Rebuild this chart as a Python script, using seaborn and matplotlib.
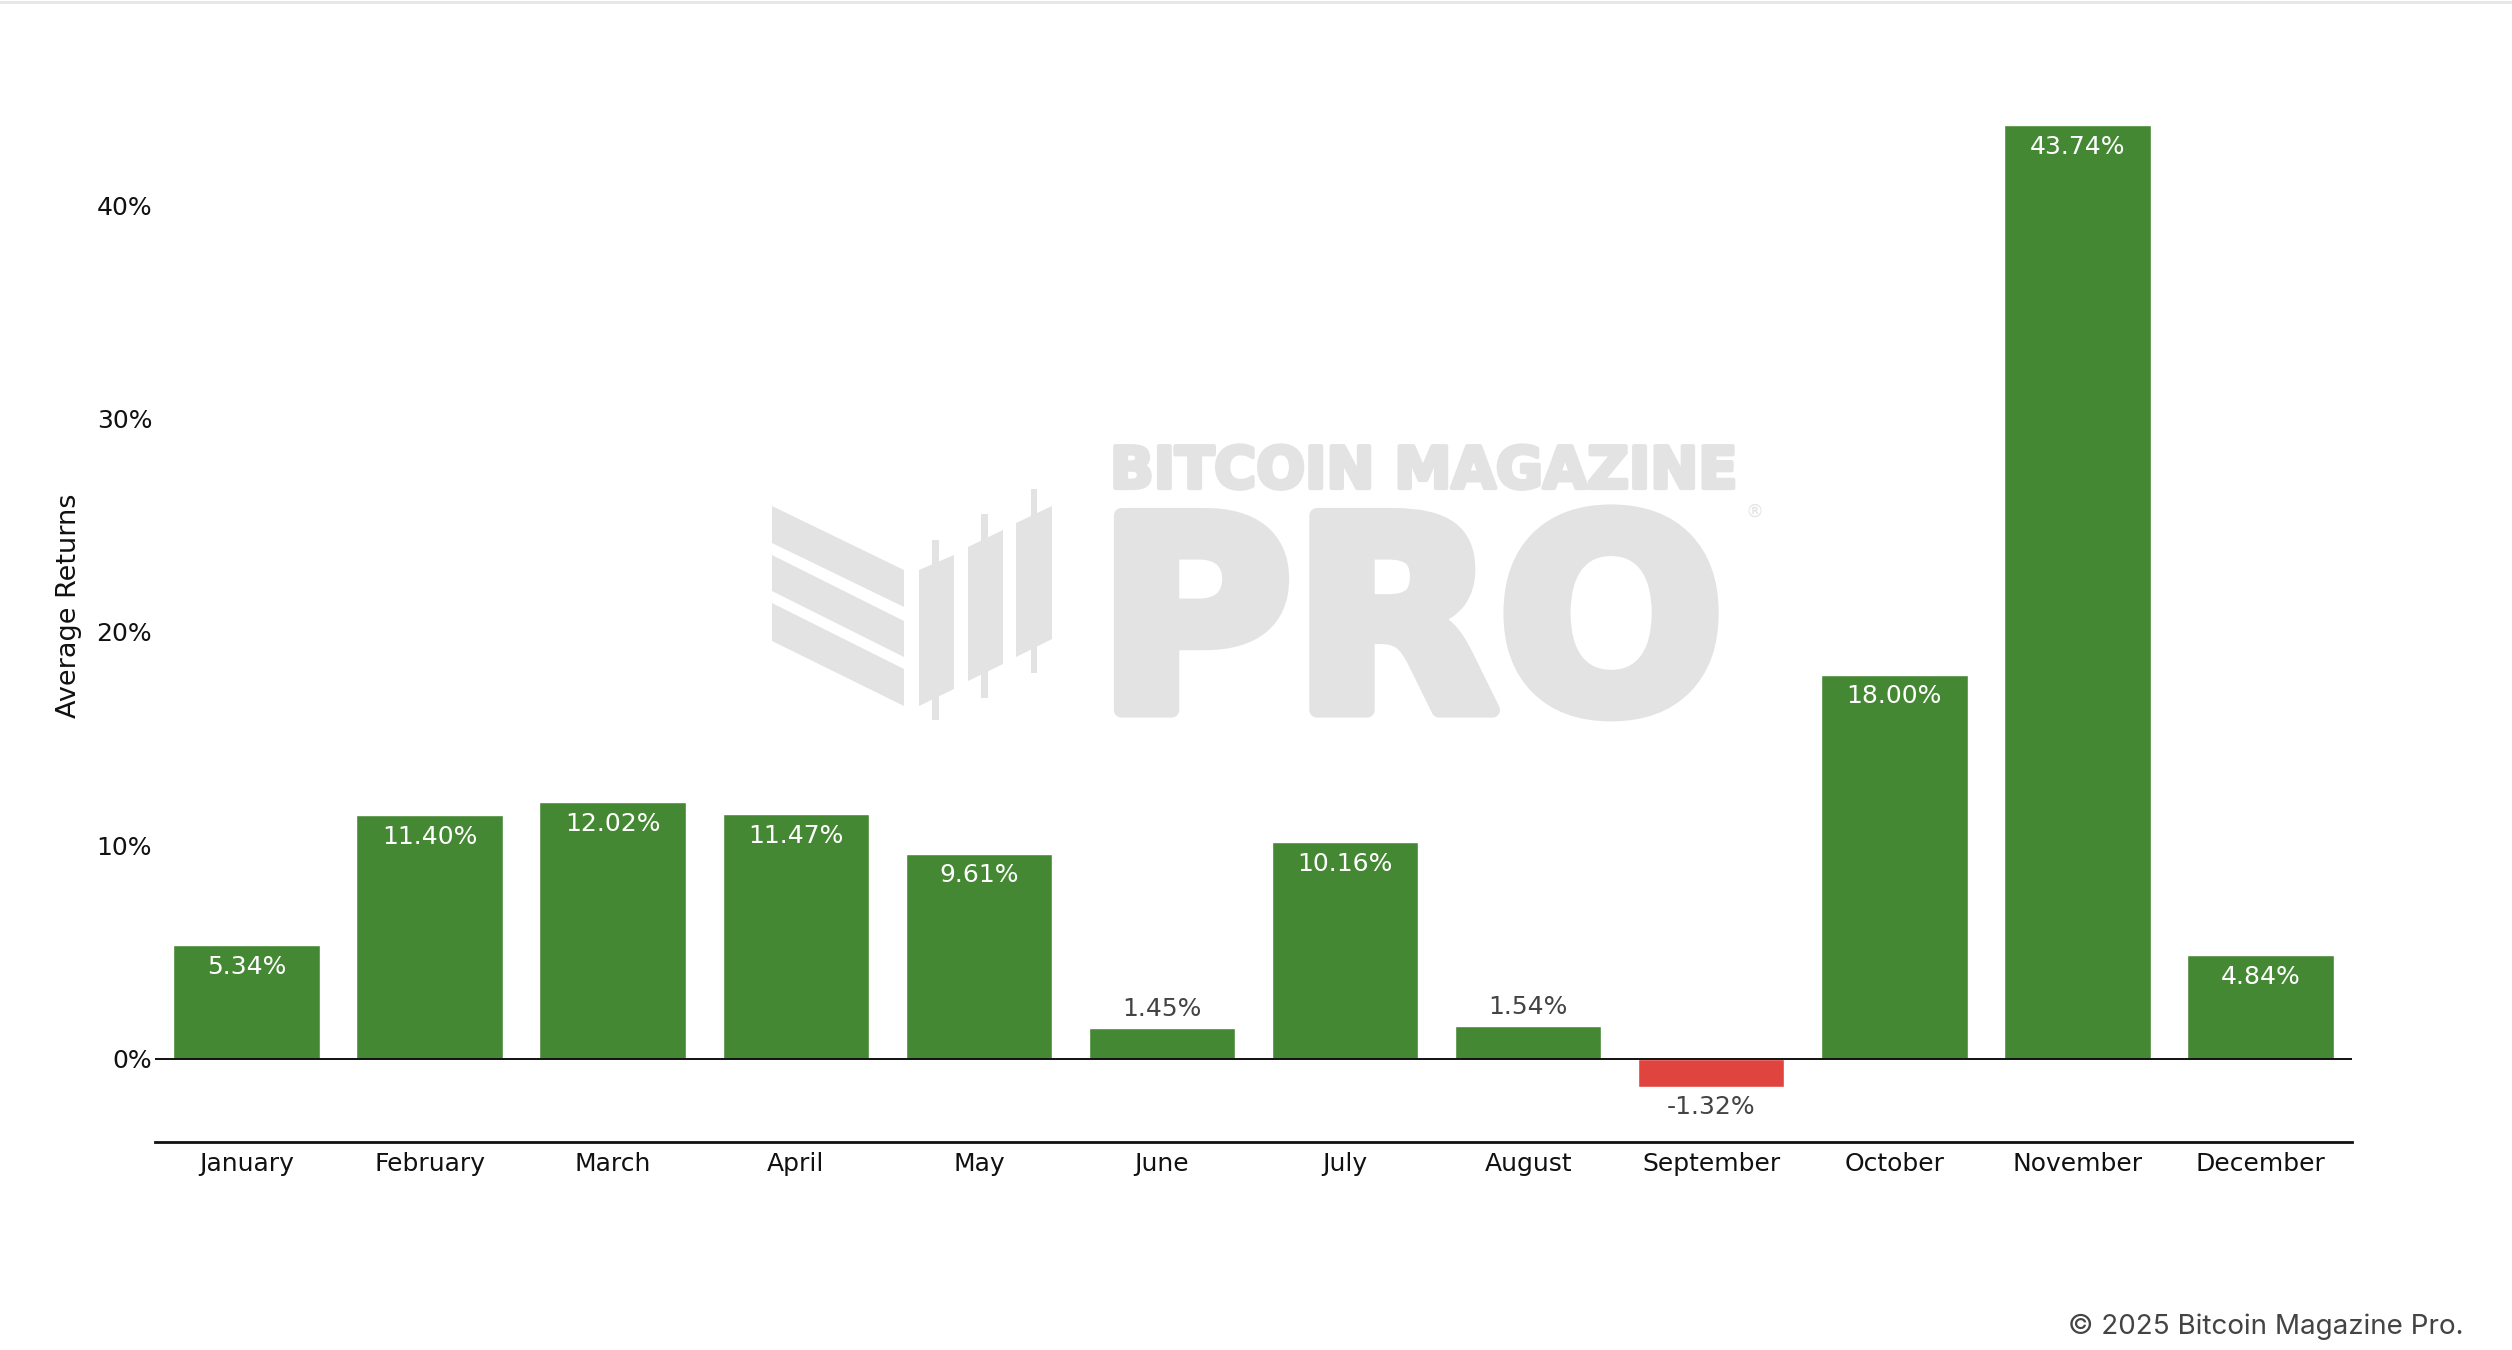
import numpy as np
import pandas as pd
import matplotlib
matplotlib.use("Agg")
import matplotlib.pyplot as plt
import matplotlib.patheffects as pe
from matplotlib.patches import Polygon
from matplotlib.lines import Line2D
import seaborn as sns

# data
months = ["January", "February", "March", "April", "May", "June",
          "July", "August", "September", "October", "November", "December"]
avg_returns = [5.34, 11.40, 12.02, 11.47, 9.61, 1.45, 10.16, 1.54, -1.32, 18.00, 43.74, 4.84]
y_ticks = [0, 10, 20, 30, 40]

GREEN = "#458834"
RED = "#E0443F"
W, H = 2512, 1350

df = pd.DataFrame({"month": months, "ret": avg_returns})
df["sign"] = np.where(df["ret"] >= 0, "pos", "neg")

sns.set_theme(style="white")
plt.rcParams["font.family"] = ["DejaVu Sans"]

fig = plt.figure(figsize=(W / 100, H / 100), dpi=100)
fig.patch.set_facecolor("white")

def px(x, y):
    # full-size pixel coords -> figure fraction
    return x / W, 1 - y / H

# watermark (behind chart)
wm = "#e3e3e3"
def poly(pts):
    fig.patches.append(Polygon([px(*p) for p in pts], closed=True, transform=fig.transFigure,
                               facecolor=wm, edgecolor="none", zorder=0))

for top_l, top_r, bot_l, bot_r in [(506, 570, 543, 607), (555, 621, 591, 657), (603, 669, 641, 706)]:
    poly([(772, top_l), (904, top_r), (904, bot_r), (772, bot_l)])
for (x0, x1, tl, tr, bl, br, wx0, wx1, wt, wb) in [
        (919, 954, 570, 555, 706, 689, 932, 939, 540, 720),
        (968, 1003, 547, 530, 681, 664, 981, 988, 514, 698),
        (1016, 1052, 523, 506, 657, 639, 1031, 1037, 489, 673)]:
    poly([(wx0, wt), (wx1, wt), (wx1, wb), (wx0, wb)])
    poly([(x0, tl), (x1, tr), (x1, br), (x0, bl)])

fig.text(*px(1110, 488), "BITCOIN MAGAZINE", fontsize=41.3, fontweight="bold", color=wm,
         ha="left", va="baseline", zorder=0,
         path_effects=[pe.withStroke(linewidth=3, foreground=wm)])
fig.text(*px(1097, 710), "PRO", fontsize=192, fontweight="bold", color=wm,
         ha="left", va="baseline", zorder=0,
         path_effects=[pe.withStroke(linewidth=11, foreground=wm)])
fig.text(*px(1754, 512), "®", fontsize=13, color=wm, ha="center", va="center", zorder=0)

# axes
ax = fig.add_axes([155 / W, 208 / H, (2352 - 155) / W, (1142 - 77) / H])
ax.patch.set_alpha(0)

sns.barplot(data=df, x="month", y="ret", hue="sign", palette={"pos": GREEN, "neg": RED},
            dodge=False, width=0.8, saturation=1, legend=False, ax=ax, zorder=2)

ax.set_xlim(-0.5, 11.5)
ax.set_ylim(-3.9, 46.0)
ax.set_yticks(y_ticks)
ax.set_yticklabels([f"{t}%" for t in y_ticks])
ax.axhline(0, color="#111111", lw=1.4, zorder=3)

for s in ["top", "right", "left"]:
    ax.spines[s].set_visible(False)
ax.spines["bottom"].set_color("#111111")
ax.spines["bottom"].set_linewidth(2.0)
ax.tick_params(axis="y", length=0, pad=2, labelsize=18, labelcolor="#111111")
ax.tick_params(axis="x", length=0, pad=7, labelsize=18, labelcolor="#111111")
ax.set_xlabel("")
ax.set_ylabel("")
ax.grid(False)

fig.text(*px(69, 606), "Average Returns", rotation=90, fontsize=19.5, color="#111111",
         ha="center", va="center")

# value labels
for i, v in enumerate(avg_returns):
    txt = f"{v:.2f}%"
    if abs(v) < 3:
        off = 5 if v >= 0 else -6
        ax.annotate(txt, (i, v), xytext=(0, off), textcoords="offset points", ha="center",
                    va="bottom" if v >= 0 else "top", fontsize=18, color="#444444", zorder=4)
    else:
        ax.annotate(txt, (i, v), xytext=(0, -7), textcoords="offset points", ha="center",
                    va="top", fontsize=18, color="white", zorder=4)

# top border and footer
fig.lines.append(Line2D([0, 1], [1 - 1.5 / H] * 2, transform=fig.transFigure, color="#e6e6e6", lw=2))
fig.text(*px(2464, 1334), "© 2025 Bitcoin Magazine Pro.", fontsize=20, color="#444444",
         ha="right", va="baseline", family=["Inter", "DejaVu Sans"])

fig.savefig("out.png", dpi=100, facecolor="white")
